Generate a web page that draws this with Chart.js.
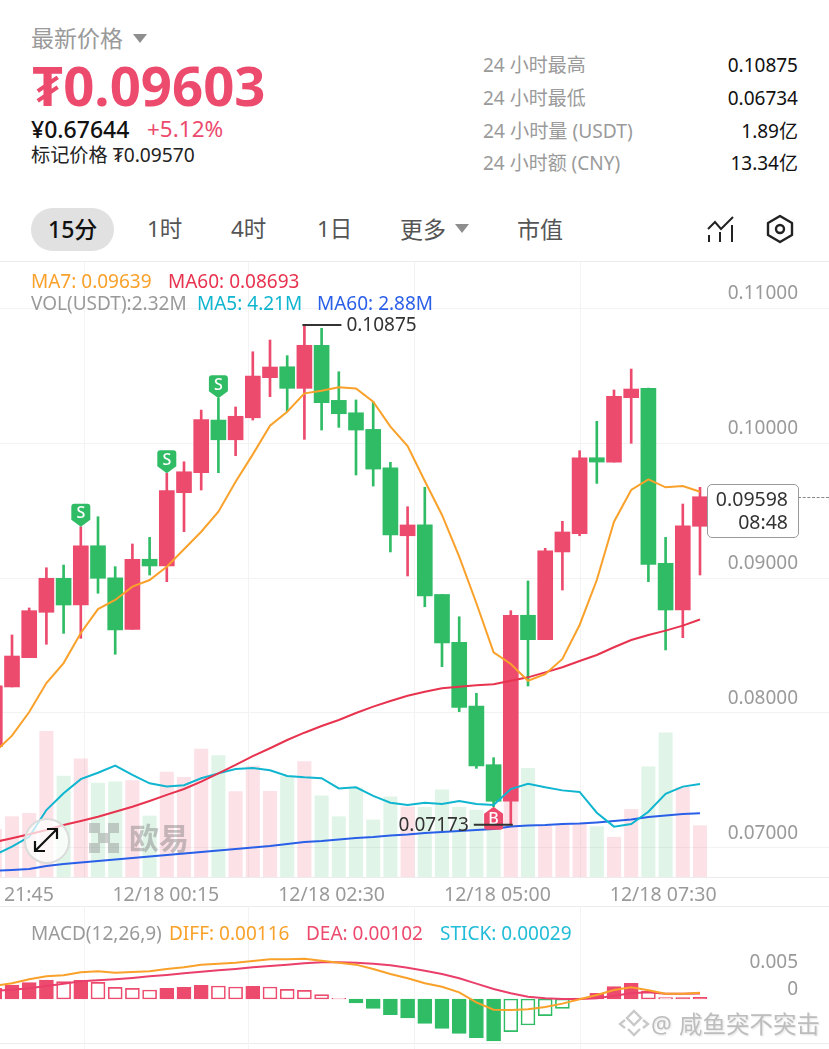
<!DOCTYPE html>
<html>
<head>
<meta charset="utf-8">
<script src="https://cdn.jsdelivr.net/npm/chart.js@4"></script>
<style>
  html, body { margin: 0; padding: 0; background: #fff; }
  body { width: 829px; height: 1049px; position: relative; overflow: hidden;
         font-family: "Noto Sans", "Noto Sans CJK SC", "DejaVu Sans", sans-serif; color: #111; }
  .t { position: absolute; white-space: nowrap; line-height: 1; transform: translateY(-50%); }
  .r { transform: translate(-100%, -50%); }
  .g { color: #9a9a9a; }
  .sep { position: absolute; left: 0; width: 829px; height: 1px; background: #ececec; }
  canvas { position: absolute; left: 0; display: block; }
</style>
</head>
<body>
<div class="t g" style="left:31px;top:38px;font-size:23px">最新价格</div>
<svg style="position:absolute;left:133px;top:34px" width="15" height="10"><path d="M0 0H14L7 9Z" fill="#8e8e8e"/></svg>
<div class="t" style="left:32px;top:85px;font-size:54.5px;font-weight:700;color:#ec4b6e">₮0.09603</div>
<div class="t" style="left:31px;top:129px;font-size:23px;font-weight:500">¥0.67644</div>
<div class="t" style="left:147px;top:129px;font-size:22.5px;color:#ec4b6e">+5.12%</div>
<div class="t" style="left:31px;top:155px;font-size:19.2px;color:#222">标记价格 ₮0.09570</div>

<div class="t g" style="left:483px;top:65px;font-size:19px">24 小时最高</div>
<div class="t g" style="left:483px;top:98px;font-size:19px">24 小时最低</div>
<div class="t g" style="left:483px;top:131px;font-size:19.2px">24 小时量 (USDT)</div>
<div class="t g" style="left:483px;top:163px;font-size:19px">24 小时额 (CNY)</div>
<div class="t r" style="left:798px;top:65px;font-size:19px">0.10875</div>
<div class="t r" style="left:798px;top:98px;font-size:19px">0.06734</div>
<div class="t r" style="left:798px;top:131px;font-size:19px">1.89亿</div>
<div class="t r" style="left:798px;top:163px;font-size:19px">13.34亿</div>

<div style="position:absolute;left:31px;top:208px;width:83px;height:43px;border-radius:22px;background:#e1e1e1"></div>
<div class="t" style="left:48px;top:229px;font-size:23px;font-weight:500">15分</div>
<div class="t" style="left:147px;top:229px;font-size:22.5px;color:#555">1时</div>
<div class="t" style="left:231px;top:229px;font-size:22.5px;color:#555">4时</div>
<div class="t" style="left:317px;top:229px;font-size:22.5px;color:#555">1日</div>
<div class="t" style="left:400px;top:229px;font-size:23px;color:#555">更多</div>
<svg style="position:absolute;left:455px;top:224px" width="15" height="10"><path d="M0 0H14L7 9Z" fill="#8e8e8e"/></svg>
<div class="t" style="left:517px;top:229px;font-size:23px;color:#555">市值</div>
<svg style="position:absolute;left:706px;top:214px" width="30" height="30" fill="none" stroke="#222" stroke-width="2">
  <path d="M2 15L9 8L15 15L27 3"/><path d="M3 28V21M14 28V18M26 28V11"/>
</svg>
<svg style="position:absolute;left:765px;top:213px" width="30" height="32" fill="none" stroke="#222" stroke-width="2.4">
  <path d="M15 3L27 10V22L15 29L3 22V10Z" stroke-linejoin="round"/><circle cx="15" cy="16" r="4"/>
</svg>

<div class="sep" style="top:261px"></div>
<div class="sep" style="top:877px"></div>
<div class="sep" style="top:906px"></div>
<div class="sep" style="top:1043px"></div>

<canvas id="main_chart" style="top:262px" width="829" height="644"></canvas>
<canvas id="macd_chart" style="top:906px" width="829" height="143"></canvas>

<div class="t" style="left:31px;top:281px;font-size:19px;color:#f9a12a">MA7: 0.09639</div>
<div class="t" style="left:168px;top:281px;font-size:19px;color:#e8334f">MA60: 0.08693</div>
<div class="t g" style="left:31px;top:303px;font-size:19px">VOL(USDT):2.32M</div>
<div class="t" style="left:197px;top:303px;font-size:19px;color:#10b5cf">MA5: 4.21M</div>
<div class="t" style="left:317px;top:303px;font-size:19px;color:#2a5fe8">MA60: 2.88M</div>
<div class="t g" style="left:31px;top:933px;font-size:19px">MACD(12,26,9)</div>
<div class="t" style="left:169px;top:933px;font-size:19px;color:#f9a12a">DIFF: 0.00116</div>
<div class="t" style="left:306px;top:933px;font-size:19px;color:#ec4b6e">DEA: 0.00102</div>
<div class="t" style="left:440px;top:933px;font-size:19px;color:#22bcd8">STICK: 0.00029</div>

<!-- last price tag -->
<div style="position:absolute;left:798px;top:497px;width:31px;border-top:1.5px dashed #888"></div>
<div style="position:absolute;left:707px;top:484px;width:90px;height:52px;border:1px solid #9a9a9a;border-radius:5px;background:rgba(255,255,255,.92)"></div>
<div class="t r" style="left:788px;top:499px;font-size:19.5px;color:#333">0.09598</div>
<div class="t r" style="left:788px;top:522px;font-size:19.5px;color:#333">08:48</div>

<!-- expand button and OKX watermark -->
<div style="position:absolute;left:24px;top:818px;width:42px;height:42px;border-radius:50%;border:2px solid #dcdcdc;background:rgba(255,255,255,.72)"></div>
<svg style="position:absolute;left:30px;top:824px" width="32" height="32" fill="none" stroke="#111" stroke-width="2.2">
  <path d="M6 26L26 6M17 5H27V15M5 17V27H15"/>
</svg>
<svg style="position:absolute;left:88px;top:822px" width="33" height="33" fill="#8a8a8a" fill-opacity=".42">
  <rect x="1" y="1" width="11" height="10"/><rect x="20" y="1" width="11" height="10"/>
  <rect x="10" y="11" width="12" height="10"/>
  <rect x="1" y="21" width="11" height="10"/><rect x="20" y="21" width="11" height="10"/>
</svg>
<div class="t" style="left:129px;top:838px;font-size:30px;font-weight:700;color:rgba(120,120,120,.42)">欧易</div>

<!-- repost watermark -->
<svg style="position:absolute;left:618px;top:1008px" width="32" height="32" fill="none" stroke="#c9c9c9" stroke-width="2.4">
  <path d="M16 3L23 10L16 17L9 10ZM7 12L2 16L7 20M25 12L30 16L25 20M10 21L16 27L22 21"/>
</svg>
<div class="t" style="left:651px;top:1024px;font-size:23px;color:#bdbdbd;text-shadow:1px 1px 2px rgba(0,0,0,.12)">@</div>
<div class="t" style="left:679px;top:1025px;font-size:23.5px;color:#bdbdbd;text-shadow:1px 1px 2px rgba(0,0,0,.12)">咸鱼突不突击</div>

<script>
// one entry per 15 minute candle
const opens = [0.07750, 0.08193, 0.08410, 0.08746, 0.08998, 0.08800, 0.09239, 0.09002, 0.08620, 0.09139, 0.09089, 0.09632, 0.09780, 0.10170, 0.10024, 0.10187, 0.10484, 0.10565, 0.10405, 0.10724, 0.10316, 0.10224, 0.10101, 0.09817, 0.09313, 0.09393, 0.08878, 0.08524, 0.08052, 0.07617, 0.07346, 0.08724, 0.08543, 0.09193, 0.09328, 0.09891, 0.09859, 0.10336, 0.10405, 0.09109, 0.08763, 0.09383];
const closes = [0.08202, 0.08422, 0.08758, 0.08998, 0.08800, 0.09239, 0.08998, 0.08615, 0.09139, 0.09089, 0.09647, 0.09787, 0.10173, 0.10024, 0.10198, 0.10496, 0.10563, 0.10405, 0.10724, 0.10299, 0.10217, 0.10096, 0.09807, 0.09319, 0.09393, 0.08867, 0.08519, 0.08042, 0.07607, 0.07346, 0.08724, 0.08543, 0.09202, 0.09341, 0.09891, 0.09859, 0.10346, 0.10400, 0.09101, 0.08763, 0.09387, 0.09602];
const highs = [0.08202, 0.08578, 0.08778, 0.09076, 0.09096, 0.09380, 0.09454, 0.09084, 0.09252, 0.09301, 0.09776, 0.09861, 0.10244, 0.10331, 0.10267, 0.10676, 0.10763, 0.10647, 0.10875, 0.10850, 0.10528, 0.10319, 0.10306, 0.09857, 0.09528, 0.09672, 0.08878, 0.08713, 0.08146, 0.07669, 0.08758, 0.08978, 0.09220, 0.09420, 0.09943, 0.10161, 0.10393, 0.10548, 0.10407, 0.09301, 0.09548, 0.09672];
const lows = [0.07750, 0.08193, 0.08410, 0.08509, 0.08590, 0.08553, 0.08887, 0.08435, 0.08620, 0.09022, 0.08973, 0.09343, 0.09652, 0.09780, 0.09906, 0.10170, 0.10343, 0.10232, 0.10027, 0.10096, 0.10116, 0.09763, 0.09681, 0.09193, 0.09015, 0.08787, 0.08343, 0.08010, 0.07590, 0.07306, 0.07173, 0.08200, 0.08543, 0.08911, 0.09313, 0.09701, 0.09859, 0.09998, 0.08973, 0.08467, 0.08558, 0.09022];
const ma7 = [0.07711, 0.07832, 0.08007, 0.08222, 0.08370, 0.08593, 0.08770, 0.08837, 0.08936, 0.08985, 0.09084, 0.09213, 0.09343, 0.09491, 0.09713, 0.09916, 0.10128, 0.10232, 0.10368, 0.10387, 0.10413, 0.10404, 0.10306, 0.10121, 0.09978, 0.09719, 0.09467, 0.09158, 0.08813, 0.08450, 0.08363, 0.08239, 0.08287, 0.08400, 0.08652, 0.08985, 0.09417, 0.09652, 0.09731, 0.09672, 0.09681, 0.09639];
const ma60 = [0.07044, 0.07072, 0.07101, 0.07133, 0.07170, 0.07200, 0.07232, 0.07269, 0.07306, 0.07348, 0.07393, 0.07437, 0.07491, 0.07553, 0.07615, 0.07681, 0.07739, 0.07800, 0.07854, 0.07904, 0.07948, 0.08000, 0.08047, 0.08089, 0.08128, 0.08158, 0.08183, 0.08195, 0.08205, 0.08213, 0.08239, 0.08264, 0.08301, 0.08339, 0.08385, 0.08430, 0.08487, 0.08541, 0.08578, 0.08610, 0.08647, 0.08693];

// volume in millions of USDT
const volumes = [2.16, 2.73, 2.88, 6.59, 4.57, 5.35, 4.25, 4.31, 4.36, 2.76, 4.75, 4.51, 5.79, 5.49, 3.86, 5.02, 3.88, 4.54, 5.22, 3.67, 2.73, 4.03, 2.58, 3.63, 3.18, 3.15, 3.94, 3.15, 3.03, 2.13, 6.90, 4.92, 2.31, 2.34, 2.43, 2.28, 1.80, 3.06, 4.98, 6.52, 4.06, 2.32];
const volMa5 = [1.00, 1.37, 1.82, 3.03, 3.79, 4.43, 4.72, 5.04, 4.62, 4.24, 4.10, 4.15, 4.47, 4.69, 4.89, 4.93, 4.83, 4.57, 4.51, 4.47, 4.01, 4.06, 3.67, 3.36, 3.26, 3.36, 3.30, 3.44, 3.30, 3.26, 3.98, 4.22, 4.06, 3.92, 3.85, 2.91, 2.28, 2.40, 2.95, 3.76, 4.09, 4.21];
const volMa60 = [0.29, 0.32, 0.36, 0.50, 0.59, 0.66, 0.72, 0.79, 0.86, 0.93, 1.00, 1.06, 1.13, 1.20, 1.27, 1.33, 1.40, 1.49, 1.58, 1.63, 1.70, 1.76, 1.81, 1.88, 1.92, 1.99, 2.04, 2.08, 2.13, 2.17, 2.29, 2.33, 2.35, 2.40, 2.42, 2.47, 2.53, 2.60, 2.71, 2.78, 2.85, 2.88];

const macdStick = [0.00198, 0.00259, 0.00302, 0.00352, 0.00321, 0.00346, 0.00309, 0.00216, 0.00198, 0.00167, 0.00198, 0.00216, 0.00253, 0.00241, 0.00222, 0.00235, 0.00222, 0.00179, 0.00160, 0.00080, 0.00012, -0.00074, -0.00173, -0.00290, -0.00352, -0.00451, -0.00543, -0.00636, -0.00716, -0.00778, -0.00605, -0.00481, -0.00309, -0.00173, 0.00019, 0.00105, 0.00228, 0.00290, 0.00148, 0.00025, 0.00025, 0.00029];
const macdDiff = [0.00247, 0.00290, 0.00364, 0.00420, 0.00438, 0.00494, 0.00512, 0.00488, 0.00500, 0.00512, 0.00556, 0.00586, 0.00636, 0.00654, 0.00673, 0.00704, 0.00735, 0.00735, 0.00747, 0.00710, 0.00673, 0.00636, 0.00556, 0.00463, 0.00383, 0.00290, 0.00228, 0.00123, -0.00062, -0.00198, -0.00204, -0.00191, -0.00148, -0.00086, -0.00006, 0.00074, 0.00167, 0.00216, 0.00160, 0.00099, 0.00099, 0.00116];
const macdDea = [0.00148, 0.00173, 0.00198, 0.00241, 0.00284, 0.00327, 0.00346, 0.00364, 0.00389, 0.00420, 0.00444, 0.00475, 0.00506, 0.00531, 0.00556, 0.00586, 0.00611, 0.00636, 0.00660, 0.00679, 0.00679, 0.00673, 0.00654, 0.00623, 0.00580, 0.00525, 0.00463, 0.00383, 0.00284, 0.00185, 0.00105, 0.00043, 0.00012, 0.00000, 0.00000, 0.00012, 0.00062, 0.00105, 0.00123, 0.00099, 0.00099, 0.00102];

const priceTicks = [0.07, 0.08, 0.09, 0.10, 0.11];
const macdTicks = [0, 0.005];
const timeLabels = ['21:45', '12/18 00:15', '12/18 02:30', '12/18 05:00', '12/18 07:30', ''];

// candle index -> marker
const sellMarks = [5, 10, 13];
const buyMarks = [29];
const highMark = { index: 18, value: 0.10875 };
const lowMark = { index: 30, value: 0.07173 };

const UP = '#ec4b6e';
const DOWN = '#2fbc65';
const GRID = '#f3f3f3';
const GREY = '#9a9a9a';
const FONT = '"Noto Sans", "Noto Sans CJK SC", sans-serif';

// 17.2px per candle, first candle is cut off by the left edge
const xMin = 0.302;
const xMax = 48.5;
// background grid is fixed at fifths of the width, candles do not line up with it.
// the first label sits a little in from the edge
const xTickValues = timeLabels.map((_, i) => i === 0 ? xMin + 0.23 : xMin + (xMax - xMin) * i / 5);

const pts = (arr) => arr.map((v, i) => ({ x: i, y: v }));
const upColors = opens.map((o, i) => closes[i] >= o ? UP : DOWN);
const volColors = opens.map((o, i) => closes[i] >= o ? 'rgba(236,75,110,.17)' : 'rgba(47,188,101,.15)');

function lineSet(values, color, yAxisID, order) {
  return { type: 'line', data: pts(values), borderColor: color, borderWidth: 2, pointRadius: 0, tension: 0, yAxisID, order };
}

// stop the layout from reserving room for half of the outer tick labels
function noPadding(s) {
  s.paddingLeft = 0;
  s.paddingRight = 0;
  s.paddingTop = 0;
  s.paddingBottom = 0;
}

function xAxis(showLabels) {
  return {
    type: 'linear', min: xMin, max: xMax, offset: false,
    afterBuildTicks: (s) => { s.ticks = xTickValues.map((value) => ({ value })); },
    afterFit: (s) => { s.height = showLabels ? 29 : 0; noPadding(s); },
    border: { display: false },
    grid: { drawTicks: false, color: (c) => (c.index === 0 || c.index === 5) ? 'transparent' : GRID },
    ticks: {
      display: showLabels, autoSkip: false, maxRotation: 0, align: 'inner', padding: 7,
      color: GREY, font: { family: FONT, size: 19.5 },
      callback: (v, i) => timeLabels[i]
    }
  };
}

const marksPlugin = {
  id: 'marks',
  afterDatasetsDraw(chart) {
    const { ctx, scales: { x, y } } = chart;
    ctx.save();
    ctx.textBaseline = 'middle';

    sellMarks.forEach((i) => {
      const cx = x.getPixelForValue(i);
      const tip = y.getPixelForValue(highs[i]);
      ctx.fillStyle = DOWN;
      ctx.beginPath();
      ctx.moveTo(cx, tip);
      ctx.lineTo(cx + 9.5, tip - 7);
      ctx.lineTo(cx + 9.5, tip - 20);
      ctx.quadraticCurveTo(cx + 9.5, tip - 23, cx + 6.5, tip - 23);
      ctx.lineTo(cx - 6.5, tip - 23);
      ctx.quadraticCurveTo(cx - 9.5, tip - 23, cx - 9.5, tip - 20);
      ctx.lineTo(cx - 9.5, tip - 7);
      ctx.closePath();
      ctx.fill();
      ctx.fillStyle = '#fff';
      ctx.font = '500 16px ' + FONT;
      ctx.textAlign = 'center';
      ctx.fillText('S', cx, tip - 13);
    });

    buyMarks.forEach((i) => {
      const cx = x.getPixelForValue(i);
      const tip = y.getPixelForValue(lows[i]);
      ctx.fillStyle = UP;
      ctx.beginPath();
      ctx.moveTo(cx, tip);
      ctx.lineTo(cx + 9.5, tip + 7);
      ctx.lineTo(cx + 9.5, tip + 20);
      ctx.quadraticCurveTo(cx + 9.5, tip + 23, cx + 6.5, tip + 23);
      ctx.lineTo(cx - 6.5, tip + 23);
      ctx.quadraticCurveTo(cx - 9.5, tip + 23, cx - 9.5, tip + 20);
      ctx.lineTo(cx - 9.5, tip + 7);
      ctx.closePath();
      ctx.fill();
      ctx.fillStyle = '#fff';
      ctx.font = '500 16px ' + FONT;
      ctx.textAlign = 'center';
      ctx.fillText('B', cx, tip + 13);
    });

    // highest and lowest price in view
    ctx.strokeStyle = '#333';
    ctx.lineWidth = 2;
    ctx.fillStyle = '#333';
    ctx.font = '19px ' + FONT;

    let px = x.getPixelForValue(highMark.index);
    let py = y.getPixelForValue(highMark.value);
    ctx.beginPath();
    ctx.moveTo(px - 2, py);
    ctx.lineTo(px + 37, py);
    ctx.stroke();
    ctx.textAlign = 'left';
    ctx.fillText(highMark.value.toFixed(5), px + 42, py + 1);

    px = x.getPixelForValue(lowMark.index);
    py = y.getPixelForValue(lowMark.value);
    ctx.beginPath();
    ctx.moveTo(px - 37, py);
    ctx.lineTo(px + 2, py);
    ctx.stroke();
    ctx.textAlign = 'right';
    ctx.fillText(lowMark.value.toFixed(5), px - 42, py + 1);
    ctx.restore();
  }
};

new Chart(document.getElementById('main_chart').getContext('2d'), {
  type: 'bar',
  plugins: [marksPlugin],
  data: {
    datasets: [
      lineSet(ma7, '#f9a12a', 'y', 1),
      lineSet(ma60, '#e8334f', 'y', 1),
      lineSet(volMa5, '#10b5cf', 'yVol', 1),
      lineSet(volMa60, '#2a5fe8', 'yVol', 1),
      { data: opens.map((o, i) => ({ x: i, y: [o, closes[i]] })), backgroundColor: upColors, barThickness: 15, grouped: false, yAxisID: 'y', order: 2 },
      { data: lows.map((l, i) => ({ x: i, y: [l, highs[i]] })), backgroundColor: upColors, barThickness: 2, grouped: false, yAxisID: 'y', order: 3 },
      { data: pts(volumes), backgroundColor: volColors, barThickness: 13.4, grouped: false, yAxisID: 'yVol', order: 4 }
    ]
  },
  options: {
    responsive: false,
    animation: false,
    layout: { padding: 0 },
    plugins: { legend: { display: false }, tooltip: { enabled: false } },
    scales: {
      x: xAxis(true),
      y: {
        type: 'linear', position: 'right', min: 0.06785, max: 0.11341,
        afterBuildTicks: (s) => { s.ticks = priceTicks.map((value) => ({ value })); },
        afterFit: (s) => { s.width = 0; noPadding(s); },
        border: { display: false },
        grid: { drawTicks: false, color: GRID },
        ticks: {
          mirror: true, padding: -31, labelOffset: -14, color: GREY,
          font: { family: FONT, size: 19 },
          callback: (v) => v.toFixed(5)
        }
      },
      yVol: { type: 'linear', display: false, position: 'left', min: 0, max: 27.83 }
    }
  }
});

new Chart(document.getElementById('macd_chart').getContext('2d'), {
  type: 'bar',
  data: {
    datasets: [
      lineSet(macdDiff, '#f9a12a', 'y', 1),
      lineSet(macdDea, '#ea3f6b', 'y', 2),
      {
        data: pts(macdStick),
        barThickness: 14,
        grouped: false,
        borderSkipped: false,
        borderWidth: 1,
        borderColor: macdStick.map((v) => v >= 0 ? UP : DOWN),
        // bars shrinking towards zero are hollow
        backgroundColor: macdStick.map((v, i) => {
          const shrinking = i > 0 && Math.abs(v) < Math.abs(macdStick[i - 1]);
          if (shrinking) return 'transparent';
          return v >= 0 ? UP : DOWN;
        }),
        yAxisID: 'y',
        order: 3
      }
    ]
  },
  options: {
    responsive: false,
    animation: false,
    layout: { padding: 0 },
    plugins: { legend: { display: false }, tooltip: { enabled: false } },
    scales: {
      x: xAxis(false),
      y: {
        type: 'linear', position: 'right', min: -0.00926, max: 0.01722,
        afterBuildTicks: (s) => { s.ticks = macdTicks.map((value) => ({ value })); },
        afterFit: (s) => { s.width = 0; noPadding(s); },
        border: { display: false },
        grid: { display: false, drawTicks: false },
        ticks: {
          mirror: true, padding: -31, labelOffset: -9, color: GREY,
          font: { family: FONT, size: 19 },
          callback: (v) => v === 0 ? '0' : String(v)
        }
      }
    }
  }
});
</script>
</body>
</html>
